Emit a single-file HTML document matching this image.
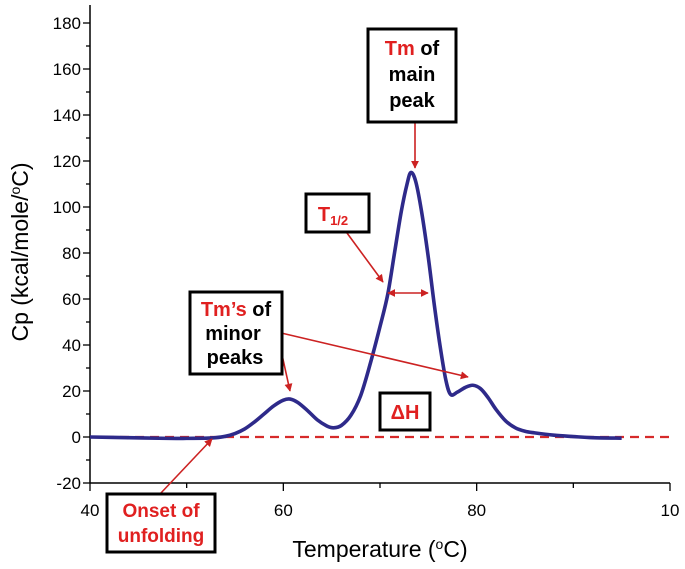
<!DOCTYPE html>
<html><head><meta charset="utf-8"><style>
body{margin:0;background:#fff;}
svg{display:block;font-family:"Liberation Sans",Arial,sans-serif;}
</style></head><body>
<svg width="685" height="569" viewBox="0 0 685 569">
<defs>
<marker id="ah" viewBox="0 0 10 10" refX="9" refY="5" markerWidth="5" markerHeight="5" orient="auto-start-reverse"><path d="M0,0 L10,5 L0,10 z" fill="#cc2222"/></marker>
</defs>
<g id="axes"></g>
<path id="baseline" fill="none" stroke="#d62a2a" stroke-width="2.2" stroke-dasharray="9,6"/>
<path id="curve" fill="none" stroke="#2e2a8a" stroke-width="3.6" stroke-linejoin="round"/>
<g stroke="#cc2222" stroke-width="1.6" fill="none">
<line x1="415" y1="122" x2="415" y2="168" marker-end="url(#ah)"/>
<line x1="347" y1="233" x2="383" y2="282" marker-end="url(#ah)"/>
<line x1="388" y1="293" x2="428" y2="293" marker-start="url(#ah)" marker-end="url(#ah)"/>
<line x1="277" y1="332" x2="290" y2="391" marker-end="url(#ah)"/>
<line x1="277" y1="332" x2="468" y2="377" marker-end="url(#ah)"/>
<line x1="160" y1="494" x2="212" y2="439" marker-end="url(#ah)"/>
</g>
<g font-weight="bold" font-size="20" text-anchor="middle">
<g><rect x="368" y="29" width="88" height="93" fill="#fff" stroke="#000" stroke-width="3"/>
<text x="412" y="55"><tspan fill="#e02020">Tm</tspan> of</text><text x="412" y="81">main</text><text x="412" y="107">peak</text></g>
<g><rect x="306" y="194" width="63" height="38" fill="#fff" stroke="#000" stroke-width="3"/>
<text x="333" y="221" fill="#e02020">T<tspan font-size="13" dy="4">1/2</tspan></text></g>
<g><rect x="190" y="292" width="92" height="82" fill="#fff" stroke="#000" stroke-width="3"/>
<text x="236" y="316"><tspan fill="#e02020">Tm’s</tspan> of</text><text x="233" y="340">minor</text><text x="235" y="364">peaks</text></g>
<g><rect x="380" y="393" width="50" height="37" fill="#fff" stroke="#000" stroke-width="3"/>
<text x="405" y="419" fill="#e02020">ΔH</text></g>
<g><rect x="107" y="494" width="108" height="58" fill="#fff" stroke="#000" stroke-width="3"/>
<text x="161" y="517" font-size="19" fill="#e02020">Onset of</text><text x="161" y="542" font-size="19" fill="#e02020">unfolding</text></g>
</g>
<text x="28" y="252" font-size="23" text-anchor="middle" transform="rotate(-90 28 252)">Cp (kcal/mole/<tspan font-size="14" dy="-8">o</tspan><tspan dy="8">C)</tspan></text>
<text x="380" y="557" font-size="23" text-anchor="middle">Temperature (<tspan font-size="14" dy="-8">o</tspan><tspan dy="8">C)</tspan></text>
</svg>
<script>
const temps=[40,44,48,50,52,53,54,55,56,57,58,59,60,60.7,61.5,62.5,63.5,64.5,65.2,66,67,68,69,70,70.8,71.5,72.2,72.8,73.2,73.7,74.3,75,75.6,76.2,76.8,77.3,78,78.8,79.6,80.4,81.2,82,83,84,85,86,88,90,92,95];
const cp=[0,-0.3,-0.6,-0.6,-0.5,-0.3,0.3,1.5,3.5,6.5,10,13.5,16,16.5,15,11.5,7.5,4.8,4,5,9.5,18,32,48,62,80,98,110,115,111,98,78,58,40,25,18.5,19.5,21.5,22.5,21,17,12,7,4,2.5,1.8,0.8,0.2,-0.3,-0.5];
const yTicks=[-20,0,20,40,60,80,100,120,140,160,180];
const xTicks=[40,60,80,100];
const xTickLabels=["40","60","80","10"];
const X0=90,X1=670,Y0=437,PPU=2.3;
const sx=t=>X0+(t-40)*(X1-X0)/60;
const sy=v=>Y0-v*PPU;
const NS="http://www.w3.org/2000/svg";
const ax=document.getElementById('axes');
function mk(tag,attrs){const e=document.createElementNS(NS,tag);for(const k in attrs)e.setAttribute(k,attrs[k]);ax.appendChild(e);return e;}
const yl=mk('line',{x1:X0,y1:5,x2:X0,y2:sy(-20),stroke:'#000','stroke-width':1.5});


const xl=mk('line',{x1:X0,y1:sy(-20),x2:X1,y2:sy(-20),stroke:'#000','stroke-width':1.5});


for(let v=-20;v<=180;v+=10){const major=v%20===0;
 const t=mk('line',{x1:X0-(major?7:4),y1:sy(v),x2:X0,y2:sy(v),stroke:'#000','stroke-width':1.3});
 
 }
yTicks.forEach(v=>{const t=mk('text',{x:X0-9,y:sy(v)+6,'font-size':17,'text-anchor':'end'});t.textContent=v;
 
 });
for(let v=40;v<=100;v+=10){const major=v%20===0;
 const t=mk('line',{x1:sx(v),y1:sy(-20),x2:sx(v),y2:sy(-20)+(major?8:5),stroke:'#000','stroke-width':1.3});
 
 }
xTicks.forEach((v,i)=>{const t=mk('text',{x:sx(v),y:516,'font-size':17,'text-anchor':'middle'});t.textContent=xTickLabels[i];
 
 });
document.getElementById('baseline').setAttribute('d',`M${sx(40)},${sy(0)} L${sx(100)},${sy(0)}`);
const P=temps.map((t,i)=>[sx(t),sy(cp[i])]);
let d=`M${P[0][0]},${P[0][1]}`;
for(let i=0;i<P.length-1;i++){const p0=P[Math.max(0,i-1)],p1=P[i],p2=P[i+1],p3=P[Math.min(P.length-1,i+2)];
 const c1=[p1[0]+(p2[0]-p0[0])/6,p1[1]+(p2[1]-p0[1])/6],c2=[p2[0]-(p3[0]-p1[0])/6,p2[1]-(p3[1]-p1[1])/6];
 d+=` C${c1[0]},${c1[1]} ${c2[0]},${c2[1]} ${p2[0]},${p2[1]}`;}
document.getElementById('curve').setAttribute('d',d);
</script>
</body></html>
